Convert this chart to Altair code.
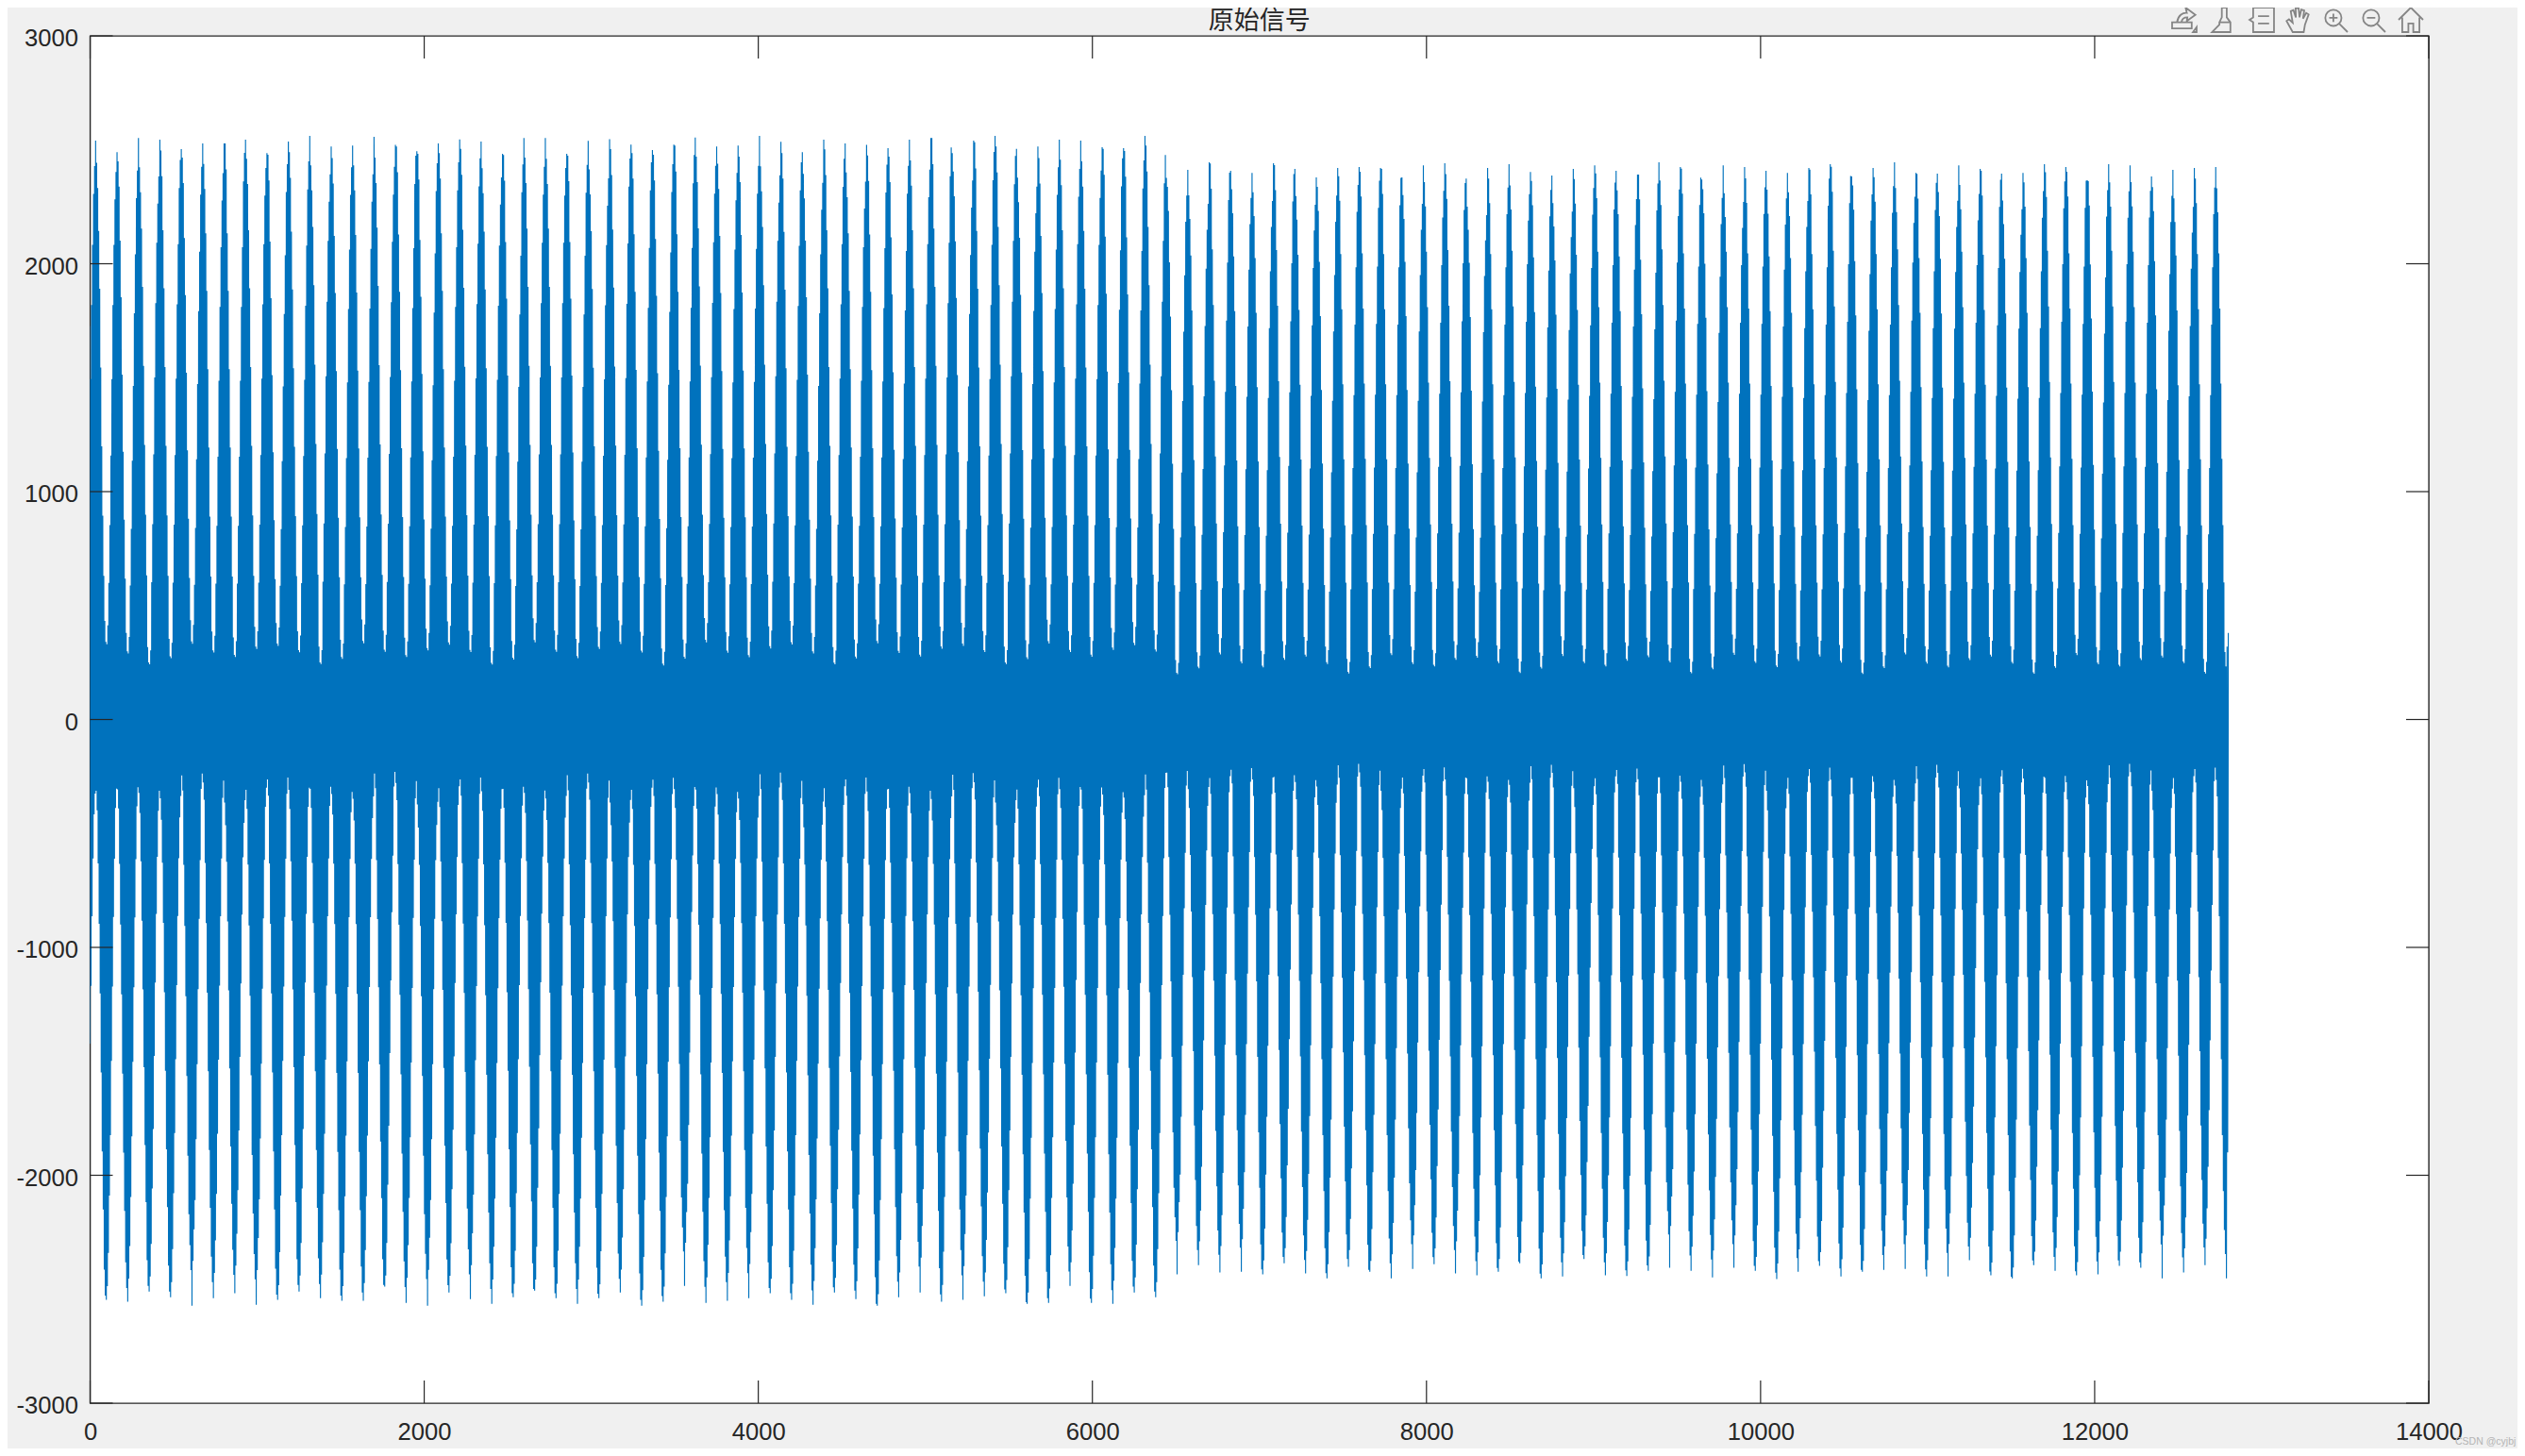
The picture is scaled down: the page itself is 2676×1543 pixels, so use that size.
import altair as alt
import pandas as pd

alt.data_transformers.disable_max_rows()

# Per-cycle positive peak values (100 cycles)
top_peaks = [
    2540, 2490, 2552, 2544, 2503, 2528, 2528, 2544, 2485, 2536, 2561, 2515, 2519, 2557, 2522, 2494, 2528,
    2546, 2536, 2482, 2552, 2552, 2482, 2539, 2547, 2523, 2499, 2523, 2554, 2515, 2519, 2561, 2535,
    2490, 2544, 2528, 2522, 2507, 2544, 2552, 2486, 2540, 2561, 2504, 2515, 2544, 2540, 2511, 2507, 2561,
    2377, 2412, 2445, 2408, 2399, 2441, 2416, 2379, 2420, 2424, 2420, 2379, 2432, 2441, 2374, 2420,
    2437, 2403, 2387, 2416, 2432, 2408, 2391, 2445, 2424, 2370, 2432, 2424, 2408, 2399, 2420, 2437, 2383,
    2420, 2445, 2399, 2395, 2432, 2416, 2395, 2399, 2437, 2424, 2366, 2437, 2432, 2383, 2412, 2420, 2424,
]
# Per-cycle negative peak magnitudes (100 cycles)
low_peaks = [
    2547, 2555, 2510, 2535, 2572, 2539, 2518, 2568, 2547, 2510, 2539, 2551, 2551, 2489, 2560, 2572, 2514,
    2543, 2564, 2535, 2506, 2539, 2564, 2539, 2514, 2572, 2555, 2485, 2560, 2551, 2539, 2518, 2547,
    2568, 2514, 2543, 2572, 2535, 2514, 2555, 2547, 2531, 2518, 2564, 2560, 2485, 2560, 2564, 2514, 2535,
    2435, 2394, 2427, 2423, 2435, 2386, 2431, 2452, 2402, 2423, 2452, 2411, 2390, 2431, 2439, 2423,
    2386, 2452, 2444, 2368, 2439, 2442, 2419, 2406, 2419, 2448, 2406, 2419, 2456, 2423, 2398, 2444, 2423,
    2415, 2411, 2444, 2444, 2373, 2439, 2452, 2394, 2419, 2439, 2435, 2398, 2406, 2452, 2427, 2394, 2452,
]
# Second-highest step of the first spikes; reused along the record
top_shoulders = [2443, 2449, 2423, 2497, 2466, 2438, 2528, 2461, 2478, 2490, 2432, 2464, 2432, 2466, 2515, 2482, 2486,
                 2504, 2419, 2477, 2466, 2461, 2474, 2414, 2503, 2486, 2478, 2519, 2470, 2439, 2470, 2428, 2486]
low_shoulders = [2528, 2495, 2485, 2510, 2416, 2469, 2437, 2457, 2524, 2481, 2477, 2528, 2514, 2481, 2491, 2456, 2482,
                 2435, 2499, 2518, 2499, 2518, 2499]
gap_tops = [335, 300, 245, 273, 342, 300, 280, 314]
gap_bottoms = [307, 300, 321, 341, 238, 272, 362, 300, 258]
# Turning points of one cycle
cycle_levels = [
    2500, -330, 2430, -420, 2320, -620, 2110, -880, 1860, -1180, 1520, -1520, 1180, -1860, 880, -2110,
    620, -2320, 420, -2430, 330, -2500, 320, -2390, 400, -2250, 590, -2050, 840, -1790, 1140, -1470,
    1470, -1150, 1790, -850, 2050, -600, 2270, -410, 2390, -320,
]
lead_in = [1700, -1400, 1470, -1150, 1790, -850, 2050, -600, 2270, -410, 2390, -320]
tail = [320, -1900, 380]
x_ticks = [0, 2000, 4000, 6000, 8000, 10000, 12000, 14000]
y_ticks = [-3000, -2000, -1000, 0, 1000, 2000, 3000]

CYCLE = 128.2
FIRST_PEAK = 33
STEP = CYCLE / len(cycle_levels)
UP_SHOULDER = {2, 40, 4, 38}
DOWN_SHOULDER = {19, 23, 17, 25}
UP_GAP = {18, 20, 22, 24}
DOWN_GAP = {1, 41, 3, 39}

rows_x, rows_y = [], []
for i, v in enumerate(lead_in):
    rows_x.append(FIRST_PEAK - (len(lead_in) - i) * STEP)
    rows_y.append(v * top_peaks[0] / 2500)
for c in range(100):
    ks = c % len(top_shoulders)
    kl = c % len(low_shoulders)
    up_ratio = min(top_shoulders[ks] / top_peaks[ks], 1.0) / (2430 / 2500)
    low_ratio = min(low_shoulders[kl] / low_peaks[kl], 1.0) / (2430 / 2500)
    later = 0.88 if c >= 50 else 1.0
    for j, v in enumerate(cycle_levels):
        if c == 99 and j > 21:
            break
        val = v * (top_peaks[c] if v > 0 else low_peaks[c]) / 2500
        if j in UP_SHOULDER:
            val = min(val * up_ratio, top_peaks[c])
        if j in DOWN_SHOULDER:
            val = max(val * low_ratio, -low_peaks[c])
        if j in UP_GAP:
            val *= later * gap_tops[c % len(gap_tops)] / 330
        if j in DOWN_GAP:
            val *= later * gap_bottoms[c % len(gap_bottoms)] / 330
        rows_x.append(FIRST_PEAK + c * CYCLE + j * STEP)
        rows_y.append(val)
for v in tail:
    rows_x.append(rows_x[-1] + STEP * 1.2)
    rows_y.append(v)
signal = pd.DataFrame({"n": rows_x, "v": rows_y, "o": range(len(rows_x))})

W, H = 2478.5, 1449
INK = "#262626"
xs = alt.Scale(domain=[0, 14000], nice=False, zero=False)
ys = alt.Scale(domain=[-3000, 3000], nice=False, zero=False)
label_expr = "'' + datum.value"

line = alt.Chart(signal).mark_line(color="#0072BD", strokeWidth=1.15, clip=True).encode(
    x=alt.X("n:Q", scale=xs, title=None, axis=alt.Axis(
        values=x_ticks, labelExpr=label_expr, tickSize=0, domain=False, grid=False,
        labelFontSize=25.6, labelFont="Liberation Sans", labelColor=INK, labelPadding=18, labelFlush=False, labelOverlap=False)),
    y=alt.Y("v:Q", scale=ys, title=None, axis=alt.Axis(
        values=y_ticks, labelExpr=label_expr, tickSize=0, domain=False, grid=False, labelOffset=2.5,
        labelFontSize=25.6, labelFont="Liberation Sans", labelColor=INK, labelPadding=13, labelFlush=False, labelOverlap=False)),
    order="o:Q",
)

xt = pd.DataFrame({"t": x_ticks})
yt = pd.DataFrame({"t": y_ticks})
TICK = 24
tick_style = dict(color=INK, strokeWidth=1.2)
layers = [line]
for a, b in ((H, H - TICK), (0, TICK)):
    layers.append(alt.Chart(xt).mark_rule(**tick_style).encode(
        x=alt.X("t:Q", scale=xs), y=alt.value(a), y2=alt.value(b)))
for a, b in ((0, TICK), (W, W - TICK)):
    layers.append(alt.Chart(yt).mark_rule(**tick_style).encode(
        y=alt.Y("t:Q", scale=ys), x=alt.value(a), x2=alt.value(b)))

one = pd.DataFrame({"a": [0]})
# MATLAB figure toolbar (window chrome, not data)
icons = [
    (2315, "M-0.5 0.1 L0.3 0.1 L0.3 0.35 L-0.5 0.35 Z M-0.3 0.1 C-0.25 -0.2 -0.05 -0.3 0.1 -0.28 L0.05 -0.5 L0.45 -0.2 L0.1 0.05 L0.12 -0.1 C0 -0.1 -0.1 -0.02 -0.12 0.1 M0.35 0.5 L0.5 0.5 L0.5 0.3 Z"),
    (2356, "M-0.05 -0.5 L0.15 -0.5 L0.15 -0.1 L0.3 0.1 L0.3 0.5 L-0.45 0.5 L-0.15 0.2 L-0.15 0.1 L-0.05 -0.1 Z M-0.15 0.1 L0.3 0.1"),
    (2397, "M-0.35 -0.5 L0.5 -0.5 L0.5 0.5 L-0.35 0.5 L-0.35 0.1 L-0.5 0 L-0.35 -0.1 Z M-0.15 -0.15 L0.3 -0.15 M-0.15 0.15 L0.3 0.15"),
    (2435, "M-0.2 0.5 L-0.45 0.05 L-0.35 -0.02 L-0.2 0.12 L-0.28 -0.35 L-0.17 -0.4 L-0.07 -0.1 L-0.08 -0.48 L0.04 -0.48 L0.08 -0.1 L0.15 -0.42 L0.27 -0.38 L0.22 -0.05 L0.35 -0.28 L0.45 -0.22 L0.3 0.2 L0.25 0.5 Z"),
    (2475, "M-0.41 -0.08 A0.33 0.33 0 1 1 0.25 -0.08 A0.33 0.33 0 1 1 -0.41 -0.08 M0.16 0.16 L0.5 0.5 M-0.25 -0.08 L0.09 -0.08 M-0.08 -0.25 L-0.08 0.09"),
    (2515, "M-0.41 -0.08 A0.33 0.33 0 1 1 0.25 -0.08 A0.33 0.33 0 1 1 -0.41 -0.08 M0.16 0.16 L0.5 0.5 M-0.25 -0.08 L0.09 -0.08"),
    (2555, "M-0.5 0 L0 -0.5 L0.5 0 M-0.35 -0.1 L-0.35 0.5 L-0.1 0.5 L-0.1 0.15 L0.1 0.15 L0.1 0.5 L0.35 0.5 L0.35 -0.1"),
]
for px, path in icons:
    layers.append(alt.Chart(one).mark_point(shape=path, size=2700, filled=False, stroke="#858585", strokeWidth=1.8, opacity=1).encode(
        x=alt.value(px - 95.5), y=alt.value(21 - 38)))

layers.append(alt.Chart(one).mark_text(text="原始信号", font="Noto Sans CJK SC", fontSize=27, fontWeight="normal", color=INK, align="center", baseline="middle").encode(
    x=alt.value(W / 2), y=alt.value(23 - 38)))
layers.append(alt.Chart(one).mark_text(text="CSDN @cyjbj", font="Liberation Sans", fontSize=10.5, color="#b4b4b4", align="left", baseline="middle").encode(
    x=alt.value(2602 - 95.5), y=alt.value(1528 - 38)))

chart = alt.layer(*layers).resolve_scale(x="shared", y="shared").properties(
    width=W, height=H,
    background="#F0F0F0",
    padding={"left": 87.5, "top": 30, "right": 94, "bottom": 48},
    autosize=alt.AutoSizeParams(type="none"),
).configure_view(stroke=INK, strokeWidth=1.4, fill="white")

chart.save("out.html", embed_options={"renderer": "svg", "actions": False})
